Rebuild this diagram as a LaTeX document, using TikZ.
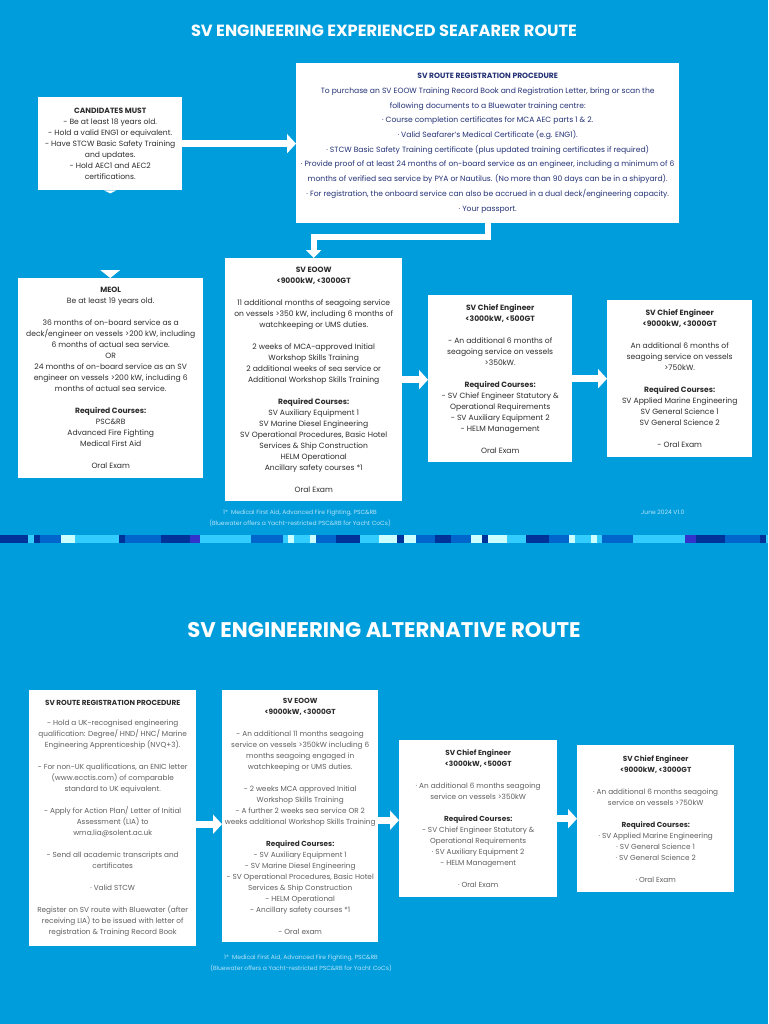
\documentclass[tikz,border=0pt]{standalone}
\usepackage{fontspec}
\setmainfont{Poppins}
\usepackage{xcolor}
\usepackage{tikz}
\usetikzlibrary{arrows.meta,positioning}

\definecolor{bwblue}{RGB}{0,157,220}
\definecolor{navytxt}{RGB}{36,50,118}
\definecolor{darktxt}{RGB}{45,45,45}
\definecolor{greytxt}{RGB}{95,95,95}
\definecolor{notetxt}{RGB}{185,228,248}
\definecolor{bdark}{RGB}{0,51,153}
\definecolor{bmid}{RGB}{0,102,204}
\definecolor{blight}{RGB}{51,204,255}
\definecolor{bpale}{RGB}{204,255,255}
\definecolor{bpurple}{RGB}{51,51,204}

\begin{document}
\begin{tikzpicture}[x=1pt, y=-1pt,
  box/.style={fill=white, inner sep=0pt, anchor=north west, align=center, text=darktxt,
    font=\fontsize{7.6}{11}\selectfont},
  lowbox/.style={box, text=greytxt, font=\fontsize{7.3}{11}\selectfont},
  size/.style 2 args={minimum width=#1pt, minimum height=#2pt},
  arrow/.style={draw=white, line width=7pt, -{Triangle[length=9pt, width=19pt]}},
  thinarrow/.style={draw=white, line width=6pt, -{Triangle[length=8pt, width=15pt]}},
  title/.style={text=white, font=\bfseries},
  note/.style={text=notetxt, align=center, font=\fontsize{6}{11}\selectfont}
]
\fill[bwblue] (0,0) rectangle (768,1024);

\node[title, font=\fontsize{16.2}{18}\selectfont\bfseries] (ttop) at (384,31) {SV ENGINEERING EXPERIENCED SEAFARER ROUTE};

\node[box, size={144}{93}] (cand) at (38,97) {\textbf{CANDIDATES MUST}\\
- Be at least 18 years old.\\
- Hold a valid ENG1 or equivalent.\\
- Have STCW Basic Safety Training\\
and updates.\\
- Hold AEC1 and AEC2\\
certifications.};

\node[box, size={383}{160}, text=navytxt, font=\fontsize{7.6}{14.7}\selectfont] (reg) at (296,63) {\textbf{SV ROUTE REGISTRATION PROCEDURE}\\
To purchase an SV EOOW Training Record Book and Registration Letter, bring or scan the\\
following documents to a Bluewater training centre:\\
· Course completion certificates for MCA AEC parts 1 \& 2.\\
· Valid Seafarer's Medical Certificate (e.g. ENG1).\\
· STCW Basic Safety Training certificate (plus updated training certificates if required)\\
· Provide proof of at least 24 months of on-board service as an engineer, including a minimum of 6\\
months of verified sea service by PYA or Nautilus. (No more than 90 days can be in a shipyard).\\
· For registration, the onboard service can also be accrued in a dual deck/engineering capacity.\\
· Your passport.};

\node[box, size={185}{200}] (meol) at (18,278) {\textbf{MEOL}\\
Be at least 19 years old.\\[11pt]
36 months of on-board service as a\\
deck/engineer on vessels >200 kW, including\\
6 months of actual sea service.\\
OR\\
24 months of on-board service as an SV\\
engineer on vessels >200 kW, including 6\\
months of actual sea service.\\[11pt]
\textbf{Required Courses:}\\
PSC\&RB\\
Advanced Fire Fighting\\
Medical First Aid\\[11pt]
Oral Exam};

\node[box, size={177}{243}] (eoow) at (225,258) {\textbf{SV EOOW}\\
\textbf{<9000kW, <3000GT}\\[11pt]
11 additional months of seagoing service\\
on vessels >350 kW, including 6 months of\\
watchkeeping or UMS duties.\\[11pt]
2 weeks of MCA-approved Initial\\
Workshop Skills Training\\
2 additional weeks of sea service or\\
Additional Workshop Skills Training\\[11pt]
\textbf{Required Courses:}\\
SV Auxiliary Equipment 1\\
SV Marine Diesel Engineering\\
SV Operational Procedures, Basic Hotel\\
Services \& Ship Construction\\
HELM Operational\\
Ancillary safety courses *1\\[11pt]
Oral Exam};

\node[box, size={144}{167}] (chiefa) at (428,295) {\textbf{SV Chief Engineer}\\
\textbf{<3000kW, <500GT}\\[11pt]
- An additional 6 months of\\
seagoing service on vessels\\
>350kW.\\[11pt]
\textbf{Required Courses:}\\
- SV Chief Engineer Statutory \&\\
Operational Requirements\\
- SV Auxiliary Equipment 2\\
- HELM Management\\[11pt]
Oral Exam};

\node[box, size={145}{157}] (chiefb) at (607,300) {\textbf{SV Chief Engineer}\\
\textbf{<9000kW, <3000GT}\\[11pt]
An additional 6 months of\\
seagoing service on vessels\\
>750kW.\\[11pt]
\textbf{Required Courses:}\\
SV Applied Marine Engineering\\
SV General Science 1\\
SV General Science 2\\[11pt]
- Oral Exam};

\draw[arrow] (cand.east) -- (cand.east -| reg.west);
\draw[thinarrow] (reg.south) -- ++(0,14) -| (eoow.north);
\draw[arrow] (eoow.east) -- (eoow.east -| chiefa.west);
\draw[arrow] (chiefa.east) -- (chiefa.east -| chiefb.west);
\fill[white] (cand.south) ++(-6,0) -- ++(12,0) -- ++(-6,3) -- cycle;
\fill[white] (cand.south |- meol.north) ++(-10,-8) -- ++(20,0) -- ++(-10,8) -- cycle;

\node[note] (notea) at (300,518) {1*\ \ Medical First Aid, Advanced Fire Fighting, PSC\&RB\\
(Bluewater offers a Yacht-restricted PSC\&RB for Yacht CoCs)};
\node[note, anchor=east] (date) at (688,512) {June 2024 V1.0};

\foreach \a/\b/\c in {0/28/bdark, 28/34/blight, 34/40/bdark, 40/61/bmid, 61/75/bpale,
  75/119/blight, 119/125/bdark, 125/161/bmid, 161/190/bdark, 190/200/bpurple,
  200/251/blight, 251/283/bmid, 283/288/blight, 288/294/bpale, 294/310/blight,
  310/316/bpale, 316/336/bmid, 336/360/bdark, 360/379/blight, 379/397/bpale,
  397/404/bdark, 404/416/bpale, 416/435/bmid, 435/451/bdark, 451/471/bmid,
  471/482/bpale, 482/488/bdark, 488/507/bpale, 507/526/blight, 526/549/bdark,
  549/569/bmid, 569/575/bpale, 575/591/blight, 591/597/bpale, 597/602/blight,
  602/633/bmid, 633/685/blight, 685/696/bpurple, 696/725/bdark, 725/760/bmid,
  760/766/bdark, 766/768/blight}
  \fill[\c] (\a,535) rectangle (\b,543);

\node[title, font=\fontsize{21.2}{24}\selectfont\bfseries] (tbot) at (384,630) {SV ENGINEERING ALTERNATIVE ROUTE};

\node[lowbox, size={167}{256}] (reg2) at (29,690) {\textbf{\color{darktxt}SV ROUTE REGISTRATION PROCEDURE}\\[9pt]
- Hold a UK-recognised engineering\\
qualification: Degree/ HND/ HNC/ Marine\\
Engineering Apprenticeship (NVQ+3).\\[11pt]
- For non-UK qualifications, an ENIC letter\\
(www.ecctis.com) of comparable\\
standard to UK equivalent.\\[11pt]
- Apply for Action Plan/ Letter of Initial\\
Assessment (LIA) to\\
wma.lia@solent.ac.uk\\[11pt]
- Send all academic transcripts and\\
certificates\\[11pt]
· Valid STCW\\[11pt]
Register on SV route with Bluewater (after\\
receiving LIA) to be issued with letter of\\
registration \& Training Record Book};

\node[lowbox, size={156}{252}] (eoow2) at (222,690) {\textbf{\color{darktxt}SV EOOW}\\
\textbf{\color{darktxt}<9000kW, <3000GT}\\[11pt]
- An additional 11 months seagoing\\
service on vessels >350kW including 6\\
months seagoing engaged in\\
watchkeeping or UMS duties.\\[11pt]
- 2 weeks MCA approved Initial\\
Workshop Skills Training\\
- A further 2 weeks sea service OR 2\\
weeks additional Workshop Skills Training\\[11pt]
\textbf{\color{darktxt}Required Courses:}\\
- SV Auxiliary Equipment 1\\
- SV Marine Diesel Engineering\\
- SV Operational Procedures, Basic Hotel\\
Services \& Ship Construction\\
- HELM Operational\\
- Ancillary safety courses *1\\[11pt]
- Oral exam};

\node[lowbox, size={158}{157}] (chiefc) at (399,740) {\textbf{\color{darktxt}SV Chief Engineer}\\
\textbf{\color{darktxt}<3000kW, <500GT}\\[11pt]
· An additional 6 months seagoing\\
service on vessels >350kW\\[11pt]
\textbf{\color{darktxt}Required Courses:}\\
- SV Chief Engineer Statutory \&\\
Operational Requirements\\
· SV Auxiliary Equipment 2\\
- HELM Management\\[11pt]
· Oral Exam};

\node[lowbox, size={157}{147}] (chiefd) at (577,745) {\textbf{\color{darktxt}SV Chief Engineer}\\
\textbf{\color{darktxt}<9000kW, <3000GT}\\[11pt]
· An additional 6 months seagoing\\
service on vessels >750kW\\[11pt]
\textbf{\color{darktxt}Required Courses:}\\
· SV Applied Marine Engineering\\
· SV General Science 1\\
· SV General Science 2\\[11pt]
· Oral Exam};

\draw[arrow] ([yshift=-6pt]reg2.east) -- ([yshift=-6pt]reg2.east -| eoow2.west);
\draw[arrow] ([yshift=-4pt]eoow2.east) -- ([yshift=-4pt]eoow2.east -| chiefc.west);
\draw[arrow] (chiefc.east) -- (chiefc.east -| chiefd.west);

\node[note] (noteb) at (301,963) {1*\ \ Medical First Aid, Advanced Fire Fighting, PSC\&RB\\
(Bluewater offers a Yacht-restricted PSC\&RB for Yacht CoCs)};
\end{tikzpicture}
\end{document}
